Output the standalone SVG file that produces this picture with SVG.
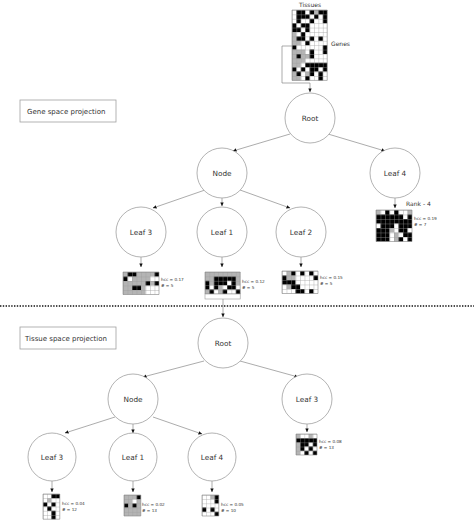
<svg xmlns="http://www.w3.org/2000/svg" width="474" height="520" viewBox="0 0 474 520">
<style>
.node circle{fill:#fff;stroke:#a0a0a0;stroke-width:0.8}
.lbl{font-family:"DejaVu Sans",sans-serif;font-size:7.3px;fill:#333;text-anchor:middle}
.box{fill:#fff;stroke:#a0a0a0;stroke-width:0.8}
.btxt{font-family:"DejaVu Sans",sans-serif;font-size:7px;fill:#333}
.sm{font-family:"DejaVu Sans",sans-serif;font-size:4.2px;fill:#333}
.tiny{font-family:"DejaVu Sans",sans-serif;font-size:6px;fill:#333}
.bc{fill:#000}
.gc{fill:#b4b4b4}
.frame{stroke:#888;stroke-width:0.6;vector-effect:non-scaling-stroke}
.conn line,.conn polyline{stroke:#888;stroke-width:0.7;fill:none;marker-end:url(#arr)}
</style>
<defs>
<marker id="arr" markerUnits="userSpaceOnUse" markerWidth="4" markerHeight="4" refX="3.6" refY="2" orient="auto"><path d="M0 0.3L3.8 2L0 3.7z" fill="#111"/></marker>
<pattern id="grid" width="1" height="1" patternUnits="userSpaceOnUse"><path d="M0 0H1M0 0V1" stroke="#9a9a9a" stroke-width="0.16" fill="none"/></pattern>
</defs>
<rect width="474" height="520" fill="#fff"/>

<!-- top gene matrix -->
<g id="gene-matrix">
<text class="tiny" x="310" y="7" text-anchor="middle">Tissues</text>
<text class="tiny" x="331" y="46">Genes</text>
<g transform="translate(292,10) scale(4.4)">
<rect width="8" height="16" fill="#fff"/>
<path class="gc" d="M5 0h1v1h-1z M0 5h1v1h-1z M0 6h1v1h-1z M0 7h2v1h-2z M0 9h3v1h-3z M0 10h1v1h-1z M2 10h2v1h-2z M0 11h3v1h-3z M0 12h2v1h-2z M0 14h1v1h-1z M3 14h1v1h-1z M0 15h2v1h-2z"/>
<path class="bc" d="M1 0h2v1h-2z M4 0h1v1h-1z M6 0h2v1h-2z M1 1h3v1h-3z M5 1h1v1h-1z M7 1h1v1h-1z M1 2h1v1h-1z M4 2h1v1h-1z M7 2h1v1h-1z M0 3h1v1h-1z M2 3h2v1h-2z M0 4h2v1h-2z M3 4h1v1h-1z M2 5h1v1h-1z M1 6h2v1h-2z M4 6h1v1h-1z M6 6h1v1h-1z M3 7h1v1h-1z M0 8h1v1h-1z M7 8h1v1h-1z M4 9h1v1h-1z M7 9h1v1h-1z M1 10h1v1h-1z M4 10h1v1h-1z M3 12h5v1h-5z M0 13h1v1h-1z M2 13h1v1h-1z M4 13h2v1h-2z M7 13h1v1h-1z M1 14h1v1h-1z M4 14h1v1h-1z M6 14h1v1h-1z M3 15h1v1h-1z M6 15h1v1h-1z"/>
<rect class="frame" width="8" height="16" fill="url(#grid)"/>
</g>
</g>

<!-- section labels -->
<g id="gene-label"><rect class="box" x="20" y="100" width="96" height="22"/><text class="btxt" x="27" y="114">Gene space projection</text></g>
<g id="tissue-label"><rect class="box" x="20" y="327" width="96" height="22"/><text class="btxt" x="25" y="341">Tissue space projection</text></g>

<line x1="0" y1="306" x2="474" y2="306" stroke="#111" stroke-width="1.4" stroke-dasharray="1.4 1.4"/>

<!-- connectors -->
<g class="conn" id="connectors">
<polyline points="292,46 282,46 282,83 310,83 310,92"/>
<line x1="290" y1="134" x2="233" y2="151"/>
<line x1="328" y1="134" x2="385" y2="151"/>
<line x1="205" y1="190" x2="153" y2="208"/>
<line x1="222" y1="198" x2="222" y2="206"/>
<line x1="240" y1="190" x2="290" y2="208"/>
<line x1="395" y1="198" x2="395" y2="208"/>
<line x1="141" y1="257" x2="141" y2="267"/>
<line x1="222" y1="257" x2="222" y2="267"/>
<line x1="301" y1="257" x2="301" y2="267"/>
<line x1="223" y1="299" x2="223" y2="317"/>
<line x1="204" y1="361" x2="143" y2="377"/>
<line x1="240" y1="361" x2="298" y2="377"/>
<line x1="115" y1="417" x2="65" y2="433"/>
<line x1="133" y1="424" x2="133" y2="433"/>
<line x1="153" y1="417" x2="202" y2="434"/>
<line x1="307" y1="424" x2="307" y2="432"/>
<line x1="52" y1="481" x2="52" y2="492"/>
<line x1="133" y1="481" x2="133" y2="492"/>
<line x1="212" y1="481" x2="212" y2="492"/>
</g>

<!-- gene space nodes -->
<g class="node" id="g-root"><circle cx="310" cy="118" r="25"/><text class="lbl" x="310" y="120.5">Root</text></g>
<g class="node" id="g-node"><circle cx="222" cy="173" r="25"/><text class="lbl" x="222" y="175.5">Node</text></g>
<g class="node" id="g-leaf4"><circle cx="395" cy="173" r="25"/><text class="lbl" x="395" y="175.5">Leaf 4</text></g>
<g class="node" id="g-leaf3"><circle cx="141" cy="232" r="25"/><text class="lbl" x="141" y="234.5">Leaf 3</text></g>
<g class="node" id="g-leaf1"><circle cx="222" cy="232" r="25"/><text class="lbl" x="222" y="234.5">Leaf 1</text></g>
<g class="node" id="g-leaf2"><circle cx="301" cy="232" r="25"/><text class="lbl" x="301" y="234.5">Leaf 2</text></g>

<!-- gene leaf matrices -->
<g id="gm-leaf4">
<text class="tiny" x="406" y="206">Rank - 4</text>
<g transform="translate(376,210) scale(4.5)">
<rect width="8" height="7" fill="#fff"/>
<path class="gc" d="M0 0h1v1h-1z M7 0h1v1h-1z M3 4h1v1h-1z M4 5h1v1h-1z M4 6h1v1h-1z"/>
<path class="bc" d="M2 0h1v1h-1z M4 0h1v1h-1z M0 1h6v1h-6z M7 1h1v1h-1z M0 2h8v1h-8z M1 3h3v1h-3z M5 3h3v1h-3z M0 4h3v1h-3z M5 4h2v1h-2z M0 5h3v1h-3z M6 5h2v1h-2z M0 6h3v1h-3z M5 6h1v1h-1z M7 6h1v1h-1z"/>
<rect class="frame" width="8" height="7" fill="url(#grid)"/>
</g>
<text class="sm" x="414" y="220">hcc = 0.19</text><text class="sm" x="414" y="226"># = 7</text>
</g>

<g id="gm-leaf3">
<g transform="translate(123,272) scale(4.5)">
<rect width="8" height="5" fill="#fff"/>
<path class="gc" d="M0 0h1v1h-1z M3 0h4v1h-4z M2 1h4v1h-4z M0 2h5v1h-5z M6 2h1v1h-1z M0 3h2v1h-2z M4 3h1v1h-1z M0 4h5v1h-5z"/>
<path class="bc" d="M1 0h2v1h-2z M7 0h1v1h-1z M0 1h1v1h-1z M5 2h1v1h-1z M7 2h1v1h-1z M2 3h2v1h-2z"/>
<rect class="frame" width="8" height="5" fill="url(#grid)"/>
</g>
<text class="sm" x="161" y="281">hcc = 0.17</text><text class="sm" x="161" y="287"># = 5</text>
</g>

<g id="gm-leaf1">
<g transform="translate(205,272) scale(4.4)">
<rect width="8" height="5" fill="#fff"/>
<path class="gc" d="M0 0h8v1h-8z M0 1h2v1h-2z M7 1h1v1h-1z M1 2h1v1h-1z M7 2h1v1h-1z M3 3h1v1h-1z M0 4h1v1h-1z M3 4h1v1h-1z"/>
<path class="bc" d="M2 1h5v1h-5z M0 2h1v1h-1z M2 2h3v1h-3z M6 2h1v1h-1z M0 3h1v1h-1z M2 3h1v1h-1z M5 3h2v1h-2z M1 4h1v1h-1z M4 4h1v1h-1z M7 4h1v1h-1z"/>
<rect class="frame" width="8" height="5" fill="url(#grid)"/>
</g>
<rect x="205" y="294" width="35.2" height="5" fill="#fff" stroke="#999" stroke-width="0.6"/>
<text class="sm" x="242" y="283">hcc = 0.12</text><text class="sm" x="242" y="289"># = 5</text>
</g>

<g id="gm-leaf2">
<g transform="translate(282,271) scale(4.5)">
<rect width="8" height="5" fill="#fff"/>
<path class="gc" d="M1 0h1v1h-1z M1 1h2v1h-2z M1 3h1v1h-1z"/>
<path class="bc" d="M2 0h1v1h-1z M4 0h1v1h-1z M6 0h1v1h-1z M0 1h1v1h-1z M7 1h1v1h-1z M0 2h3v1h-3z M2 3h2v1h-2z M3 4h2v1h-2z M6 4h1v1h-1z"/>
<rect class="frame" width="8" height="5" fill="url(#grid)"/>
</g>
<text class="sm" x="320" y="279">hcc = 0.15</text><text class="sm" x="320" y="285"># = 5</text>
</g>

<!-- tissue space nodes -->
<g class="node" id="t-root"><circle cx="223" cy="343" r="25"/><text class="lbl" x="223" y="345.5">Root</text></g>
<g class="node" id="t-node"><circle cx="133" cy="399" r="25"/><text class="lbl" x="133" y="401.5">Node</text></g>
<g class="node" id="t-leaf3r"><circle cx="307" cy="399" r="25"/><text class="lbl" x="307" y="401.5">Leaf 3</text></g>
<g class="node" id="t-leaf3"><circle cx="52" cy="457" r="24"/><text class="lbl" x="52" y="459.5">Leaf 3</text></g>
<g class="node" id="t-leaf1"><circle cx="133" cy="457" r="24"/><text class="lbl" x="133" y="459.5">Leaf 1</text></g>
<g class="node" id="t-leaf4"><circle cx="212" cy="457" r="24"/><text class="lbl" x="212" y="459.5">Leaf 4</text></g>

<!-- tissue leaf matrices -->
<g id="tm-leaf3r">
<g transform="translate(296,434) scale(4.2)">
<rect width="5" height="5" fill="#fff"/>
<path class="gc" d="M0 0h1v1h-1z M3 0h1v1h-1z M0 2h1v3h-1z"/>
<path class="bc" d="M0 1h5v1h-5z M1 2h2v1h-2z M4 2h1v1h-1z M1 3h1v1h-1z M3 3h1v1h-1z M2 4h1v1h-1z M4 4h1v1h-1z"/>
<rect class="frame" width="5" height="5" fill="url(#grid)"/>
</g>
<text class="sm" x="319" y="443">hcc = 0.08</text><text class="sm" x="319" y="449"># = 13</text>
</g>

<g id="tm-leaf3">
<g transform="translate(43,494) scale(4.2)">
<rect width="4" height="6" fill="#fff"/>
<path class="gc" d="M1 1h1v1h-1z"/>
<path class="bc" d="M2 0h2v1h-2z M0 2h1v1h-1z M2 2h1v1h-1z M1 3h1v1h-1z M2 4h1v1h-1z M2 5h1v1h-1z"/>
<rect class="frame" width="4" height="6" fill="url(#grid)"/>
</g>
<text class="sm" x="62" y="505">hcc = 0.04</text><text class="sm" x="62" y="511">#  = 12</text>
</g>

<g id="tm-leaf1">
<g transform="translate(124,495) scale(4.2)">
<rect width="4" height="5" fill="#fff"/>
<path class="gc" d="M0 0h3v1h-3z M0 1h2v1h-2z M3 1h1v1h-1z M1 2h1v1h-1z M3 2h1v1h-1z M0 3h4v2h-4z"/>
<path class="bc" d="M3 0h1v1h-1z M0 2h1v1h-1z M2 2h1v1h-1z"/>
<rect class="frame" width="4" height="5" fill="url(#grid)"/>
</g>
<text class="sm" x="142" y="506">hcc = 0.02</text><text class="sm" x="142" y="512"># = 13</text>
</g>

<g id="tm-leaf4">
<g transform="translate(202,495) scale(4.2)">
<rect width="4" height="5" fill="#fff"/>
<path class="gc" d="M2 0h1v1h-1z"/>
<path class="bc" d="M3 0h1v2h-1z M0 3h1v1h-1z M2 3h1v1h-1z M3 4h1v1h-1z"/>
<rect class="frame" width="4" height="5" fill="url(#grid)"/>
</g>
<text class="sm" x="221" y="506">hcc = 0.05</text><text class="sm" x="221" y="512"># = 10</text>
</g>
</svg>
